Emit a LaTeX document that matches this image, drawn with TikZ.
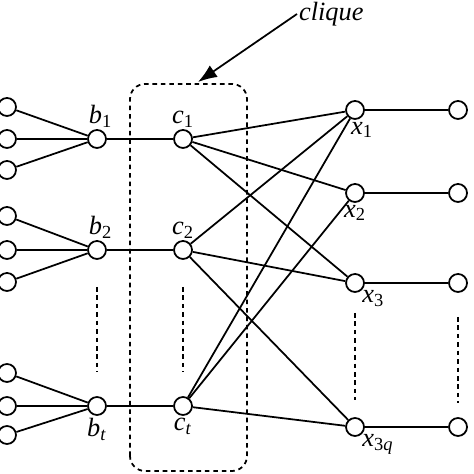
\documentclass[tikz,border=0pt]{standalone}
\usepackage{fontspec}
\setmainfont{Liberation Serif}
\usepackage{tikz}
\usetikzlibrary{arrows.meta,positioning}

\newcommand{\lab}[2]{\textit{#1}\textsubscript{#2}}

\begin{document}
\begin{tikzpicture}[x=1.0cm,y=1.0cm]
  \tikzstyle{vtx}=[circle,draw,line width=1pt,minimum size=0.36cm,inner sep=0pt,fill=white]
  \tikzstyle{edge}=[line width=1pt]
  \tikzstyle{dotline}=[line width=1pt,dash pattern=on 2.6pt off 2.2pt]
  \tikzstyle{lbl}=[font=\fontsize{15}{17}\selectfont,inner sep=1pt]
  \useasboundingbox (0,0) rectangle (9.48,9.48);

  % clique box
  \draw[dotline,rounded corners=0.3cm] (2.60,0.06) rectangle (4.94,7.80);

  % left leaves
  \node[vtx] (l11) at (0.14,7.34) {};
  \node[vtx] (l12) at (0.14,6.70) {};
  \node[vtx] (l13) at (0.14,6.08) {};
  \node[vtx] (l21) at (0.14,5.16) {};
  \node[vtx] (l22) at (0.14,4.48) {};
  \node[vtx] (l23) at (0.14,3.84) {};
  \node[vtx] (l31) at (0.14,2.02) {};
  \node[vtx] (l32) at (0.14,1.36) {};
  \node[vtx] (l33) at (0.14,0.78) {};

  % b and c columns
  \node[vtx,label={[lbl,xshift=2pt]above:\lab{b}{1}}] (b1) at (1.94,6.70) {};
  \node[vtx,label={[lbl,xshift=2pt]above:\lab{b}{2}}] (b2) at (1.94,4.48) {};
  \node[vtx,label={[lbl]below:\lab{b}{\textit{t}}}] (bt) at (1.94,1.36) {};
  \node[vtx,label={[lbl]above:\lab{c}{1}}] (c1) at (3.66,6.70) {};
  \node[vtx,label={[lbl]above:\lab{c}{2}}] (c2) at (3.66,4.48) {};
  \node[vtx,label={[lbl]below:\lab{c}{\textit{t}}}] (ct) at (3.66,1.36) {};

  % x column and right leaves
  \node[vtx,label={[lbl,xshift=4pt]below:\lab{x}{1}}] (x1) at (7.10,7.28) {};
  \node[vtx,label={[lbl]below:\lab{x}{2}}] (x2) at (7.10,5.62) {};
  \node[vtx,label={[lbl,inner sep=0pt]below right:\lab{x}{3}}] (x3) at (7.10,3.82) {};
  \node[vtx,label={[lbl,inner sep=0pt]below right:\lab{x}{3\textit{q}}}] (x3q) at (7.10,0.94) {};
  \node[vtx] (r1) at (9.16,7.28) {};
  \node[vtx] (r2) at (9.16,5.62) {};
  \node[vtx] (r3) at (9.16,3.82) {};
  \node[vtx] (r3q) at (9.16,0.94) {};

  \draw[edge] (l11) -- (b1);
  \draw[edge] (l12) -- (b1);
  \draw[edge] (l13) -- (b1);
  \draw[edge] (l21) -- (b2);
  \draw[edge] (l22) -- (b2);
  \draw[edge] (l23) -- (b2);
  \draw[edge] (l31) -- (bt);
  \draw[edge] (l32) -- (bt);
  \draw[edge] (l33) -- (bt);

  \draw[edge] (b1) -- (c1);
  \draw[edge] (b2) -- (c2);
  \draw[edge] (bt) -- (ct);

  \draw[edge] (c1) -- (x1);
  \draw[edge] (c1) -- (x2);
  \draw[edge] (c1) -- (x3);
  \draw[edge] (c2) -- (x1);
  \draw[edge] (c2) -- (x3);
  \draw[edge] (c2) -- (x3q);
  \draw[edge] (ct) -- (x1);
  \draw[edge] (ct) -- (x2);
  \draw[edge] (ct) -- (x3q);

  \draw[edge] (x1) -- (r1);
  \draw[edge] (x2) -- (r2);
  \draw[edge] (x3) -- (r3);
  \draw[edge] (x3q) -- (r3q);

  % vertical ellipses
  \draw[dotline] (1.94,3.74) -- (1.94,2.04);
  \draw[dotline] (3.66,3.74) -- (3.66,2.04);
  \draw[dotline] (7.10,3.22) -- (7.10,1.48);
  \draw[dotline] (9.16,3.14) -- (9.16,1.42);

  % clique arrow
  \node[anchor=west,inner sep=1pt] (clq) at (5.94,9.20) {\fontsize{15}{17}\selectfont\itshape clique};
  \coordinate (tip) at (3.96,7.84);
  \draw[edge,-{Latex[length=3.8mm,width=2.8mm]}] (clq.west) -- (tip);
\end{tikzpicture}
\end{document}
